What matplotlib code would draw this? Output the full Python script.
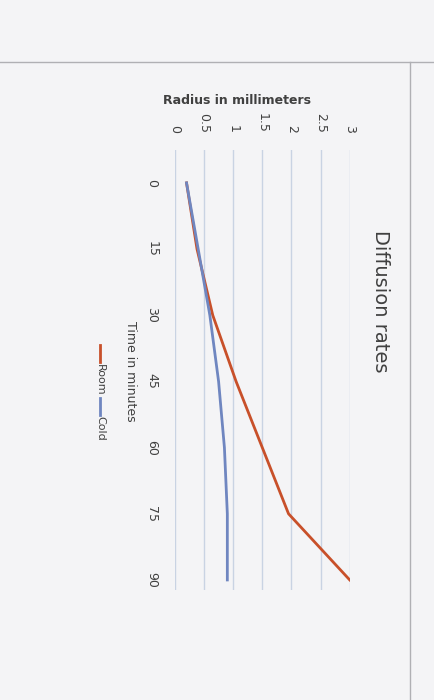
import matplotlib
matplotlib.use('Agg')
import matplotlib.pyplot as plt
from matplotlib.lines import Line2D

# photo of a chart rotated 90 degrees clockwise: time runs down, radius runs right
time_min = [0, 15, 30, 45, 60, 75, 90]
room = [0.2, 0.38, 0.65, 1.05, 1.5, 1.95, 3.0]
cold = [0.2, 0.4, 0.6, 0.75, 0.85, 0.9, 0.9]
radius_ticks = [0, 0.5, 1, 1.5, 2, 2.5, 3]
radius_labels = ['0', '0.5', '1', '1.5', '2', '2.5', '3']

room_color = '#c8502a'
cold_color = '#6f86c0'
text_color = '#404040'

fig = plt.figure(figsize=(4.35, 7), dpi=100, facecolor='#f4f4f6')
ax = fig.add_axes([0.402, 0.157, 0.402, 0.629])
ax.set_facecolor('#f4f4f6')
ax.plot(room, time_min, color=room_color, linewidth=2)
ax.plot(cold, time_min, color=cold_color, linewidth=2)
ax.set_xlim(0, 3)
ax.set_ylim(92.3, -7.5)
ax.set_xticks(radius_ticks)
ax.set_xticklabels(radius_labels, rotation=-90, color=text_color, fontsize=9)
ax.xaxis.tick_top()
ax.set_yticks(time_min)
ax.set_yticklabels([str(t) for t in time_min], rotation=-90, color=text_color,
                   fontsize=9, va='center')
ax.tick_params(length=0, pad=12)
ax.grid(axis='x', color='#c9d3e3', linewidth=1)
ax.grid(axis='y', visible=False)
for s in ax.spines.values():
    s.set_visible(False)

fig.text(0.545, 0.857, 'Radius in millimeters', fontsize=9, fontweight='bold',
         color=text_color, ha='center', va='center')
fig.text(0.30, 0.47, 'Time in minutes', rotation=-90, fontsize=9,
         color=text_color, ha='center', va='center')
fig.text(0.875, 0.57, 'Diffusion rates', rotation=-90, fontsize=14,
         color=text_color, ha='center', va='center')

# legend drawn by hand so it can read top to bottom
lx = 100 / 435
fig.add_artist(Line2D([lx, lx], [1 - 345 / 700, 1 - 362 / 700], color=room_color, lw=2))
fig.text(lx, 1 - 380 / 700, 'Room', rotation=-90, fontsize=8, color=text_color,
         ha='center', va='center')
fig.add_artist(Line2D([lx, lx], [1 - 398 / 700, 1 - 415 / 700], color=cold_color, lw=2))
fig.text(lx, 1 - 428 / 700, 'Cold', rotation=-90, fontsize=8, color=text_color,
         ha='center', va='center')

# screen edges visible in the photo
fig.add_artist(Line2D([0, 1], [1 - 62 / 700, 1 - 62 / 700], color='#b0b0b4', lw=1))
fig.add_artist(Line2D([410 / 435, 410 / 435], [0, 1 - 62 / 700], color='#b0b0b4', lw=1))

fig.savefig('out.png', dpi=100, facecolor=fig.get_facecolor())
